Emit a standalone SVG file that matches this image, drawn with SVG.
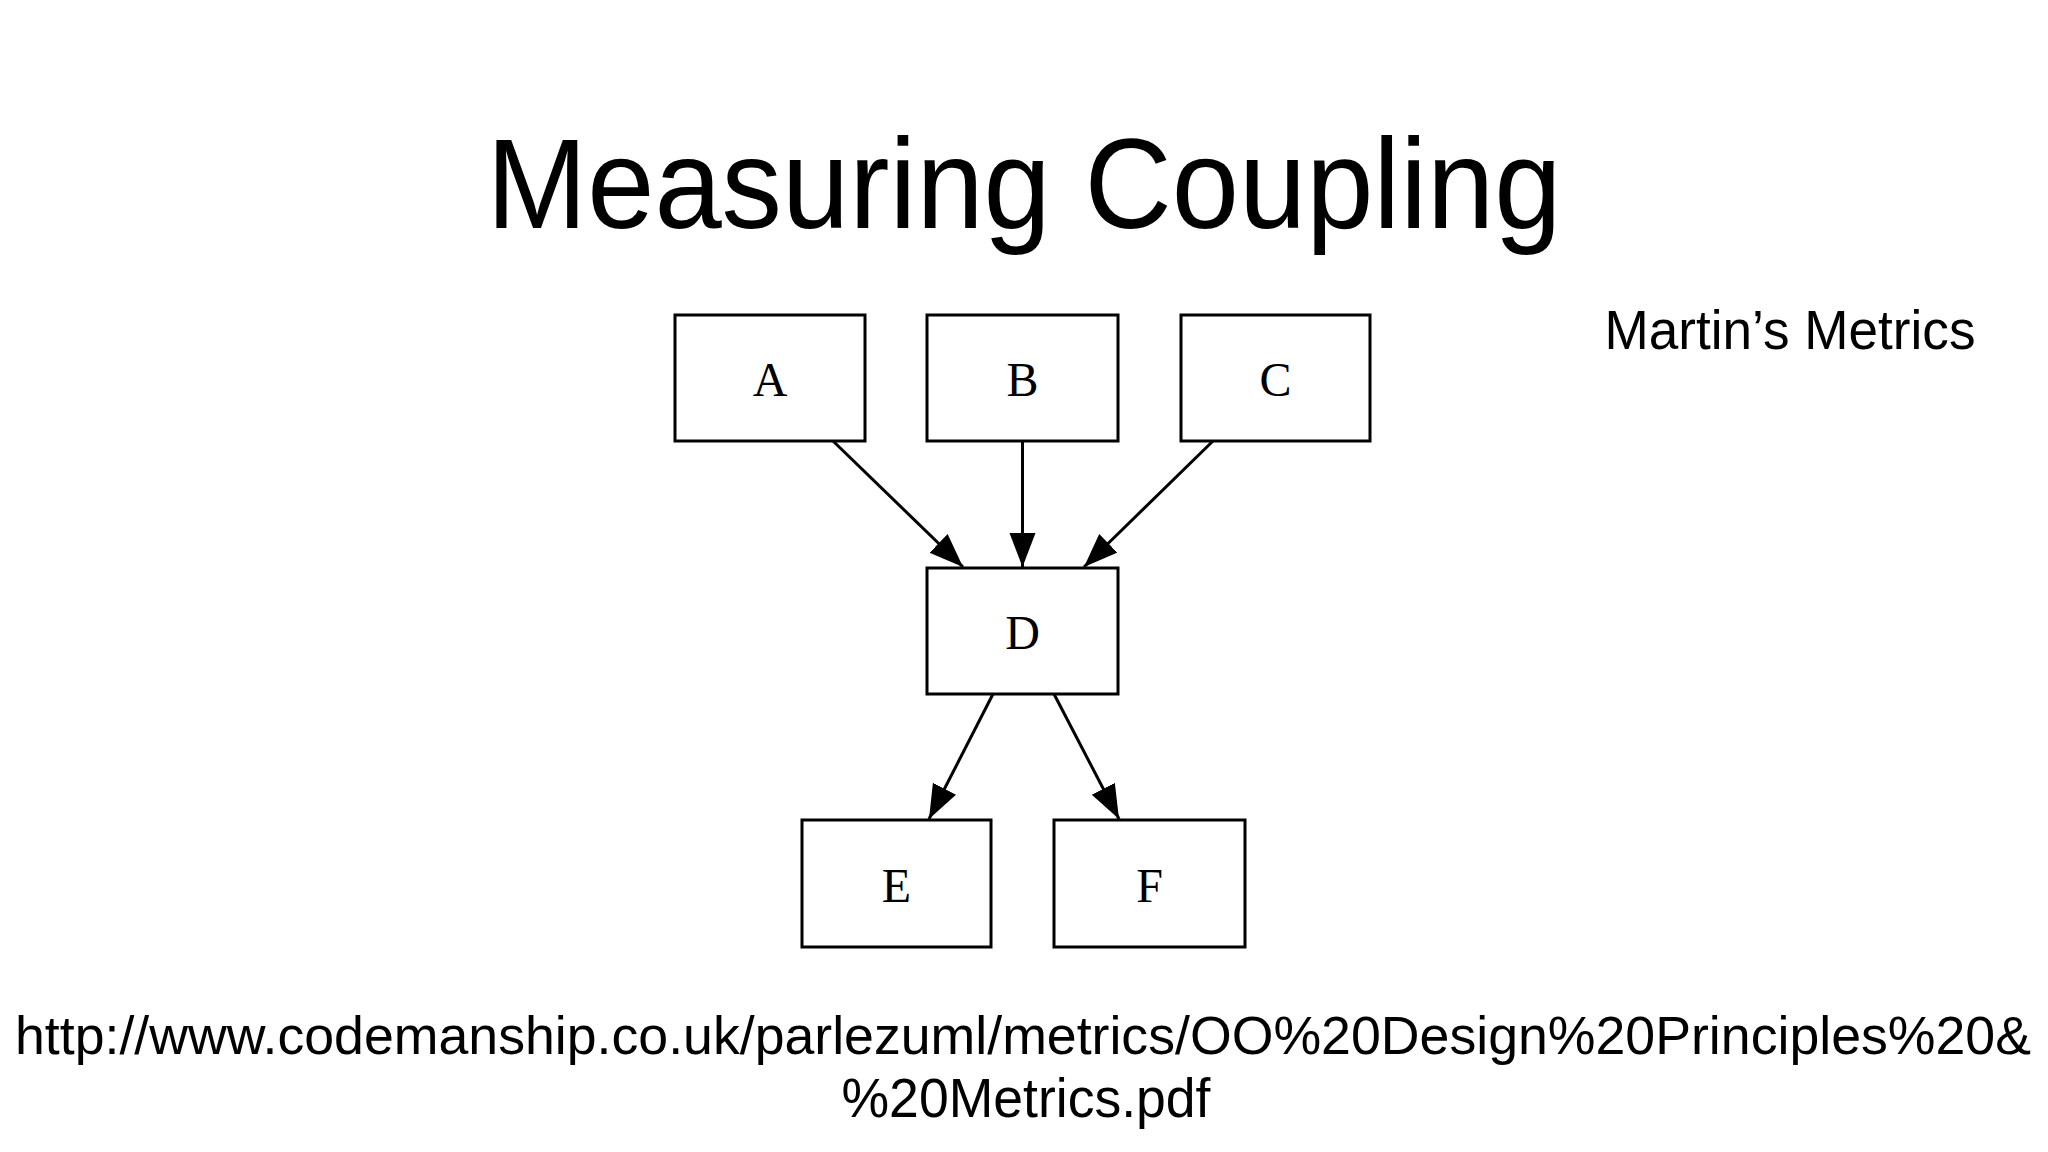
<svg xmlns="http://www.w3.org/2000/svg" width="2048" height="1152" viewBox="0 0 2048 1152">
<style>
.box{fill:#fff;stroke:#000;stroke-width:3}
.lbl{font-family:"Liberation Serif","Times New Roman",serif;font-size:48px;text-anchor:middle;fill:#000}
.edge{stroke:#000;stroke-width:3;fill:none;marker-end:url(#arr)}
.sans{font-family:"Liberation Sans",Arial,sans-serif;fill:#000;text-anchor:middle}
</style>
<defs>
<marker id="arr" markerUnits="userSpaceOnUse" markerWidth="36" markerHeight="28" refX="34" refY="13" orient="auto">
<path d="M0,0 L34,13 L0,26 z" fill="#000"/>
</marker>
</defs>
<rect width="2048" height="1152" fill="#fff"/>
<text class="sans" x="1024" y="228" font-size="128" textLength="1075" lengthAdjust="spacingAndGlyphs">Measuring Coupling</text>
<text class="sans" x="1790" y="349" font-size="55" textLength="371" lengthAdjust="spacingAndGlyphs">Martin’s Metrics</text>
<text class="sans" x="1023" y="1054" font-size="53" textLength="2016" lengthAdjust="spacingAndGlyphs">http://www.codemanship.co.uk/parlezuml/metrics/OO%20Design%20Principles%20&amp;</text>
<text class="sans" x="1026" y="1117" font-size="56" textLength="369" lengthAdjust="spacingAndGlyphs">%20Metrics.pdf</text>
<g id="connectors">
<line class="edge" x1="833" y1="441" x2="963" y2="567"/>
<line class="edge" x1="1022.5" y1="441" x2="1022.5" y2="567"/>
<line class="edge" x1="1213" y1="441" x2="1084" y2="567"/>
<line class="edge" x1="993" y1="694" x2="929" y2="819"/>
<line class="edge" x1="1054" y1="694" x2="1119" y2="819"/>
</g>
<g id="node-A"><rect class="box" x="675" y="315" width="190" height="126"/><text class="lbl" x="770" y="396">A</text></g>
<g id="node-B"><rect class="box" x="927" y="315" width="191" height="126"/><text class="lbl" x="1022.5" y="396">B</text></g>
<g id="node-C"><rect class="box" x="1181" y="315" width="189" height="126"/><text class="lbl" x="1275.5" y="396">C</text></g>
<g id="node-D"><rect class="box" x="927" y="568" width="191" height="126"/><text class="lbl" x="1022.5" y="649">D</text></g>
<g id="node-E"><rect class="box" x="802" y="820" width="189" height="127"/><text class="lbl" x="896.5" y="902">E</text></g>
<g id="node-F"><rect class="box" x="1054" y="820" width="191" height="127"/><text class="lbl" x="1149.5" y="902">F</text></g>
</svg>
